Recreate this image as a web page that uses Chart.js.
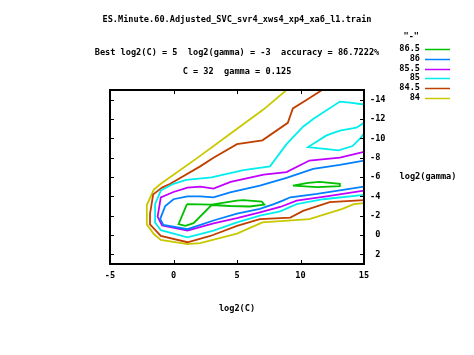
<!DOCTYPE html>
<html>
<head>
<meta charset="utf-8">
<script src="https://cdn.jsdelivr.net/npm/chart.js@4/dist/chart.umd.min.js"></script>
<style>
  html, body { margin: 0; padding: 0; background: #fff; }
  #c { display: block; }
</style>
</head>
<body>
<canvas id="c" width="474" height="355"></canvas>
<script>
// ---- text ----
const chartTitle = "ES.Minute.60.Adjusted_SVC_svr4_xws4_xp4_xa6_l1.train";
const bestLine = "Best log2(C) = 5  log2(gamma) = -3  accuracy = 86.7222%";
const paramLine = "C = 32  gamma = 0.125";
const xTitle = "log2(C)";
const yTitle = "log2(gamma)";
const legendTitle = '"-"';

// ---- ticks ----
const xTicks = [-5, 0, 5, 10, 15];
const yTicks = [-14, -12, -10, -8, -6, -4, -2, 0, 2];

// ---- contour levels ----
const levels = ["86.5", "86", "85.5", "85", "84.5", "84"];
const levelColors = ["#00c000", "#0080ff", "#c000ff", "#00eeee", "#c04000", "#c8c800"];

// ---- contour lines: [log2(C), log2(gamma)] ----
const c865a = [[1.06,-3.2],[3.0,-3.15],[4.98,-3.55],[5.5,-3.6],[6.95,-3.45],[7.15,-3.15],[6.0,-2.95],[4.46,-3.0],[3.0,-3.1],[1.58,-1.23],[0.93,-0.95],[0.4,-1.13],[1.06,-3.2]];
const c865b = [[9.4,-5.1],[10.6,-5.4],[11.5,-5.5],[13.1,-5.3],[13.1,-5.05],[11.3,-4.95],[9.4,-5.1]];
const c86 = [[15,-7.7],[13.1,-7.25],[11.0,-6.85],[8.9,-5.9],[6.8,-5.1],[4.46,-4.4],[3.15,-3.9],[2.1,-4.0],[1.1,-4.0],[0,-3.7],[-0.65,-3.0],[-1.05,-1.65],[-0.8,-1.05],[1.1,-0.6],[3.15,-1.5],[5.0,-2.2],[6.8,-2.7],[7.9,-3.2],[8.6,-3.55],[9.2,-3.9],[11.3,-4.25],[15,-5.0]];
const c855 = [[15,-8.6],[13.1,-8.0],[10.7,-7.7],[8.9,-6.5],[7.1,-6.25],[4.5,-5.5],[3.15,-4.8],[2.1,-5.0],[1.1,-4.9],[0,-4.45],[-1.0,-3.9],[-1.25,-1.9],[-0.9,-1.0],[1.1,-0.45],[3.15,-1.2],[5.0,-1.75],[6.8,-2.35],[8.4,-2.9],[9.7,-3.55],[12.3,-4.05],[15,-4.6]];
const c85a = [[15,-13.5],[13.9,-13.7],[13.1,-13.8],[11.0,-12.0],[10.2,-11.2],[8.9,-9.4],[7.6,-7.1],[5.5,-6.7],[3.0,-5.95],[1.0,-5.7],[0,-5.3],[-1.0,-4.6],[-1.45,-3.2],[-1.45,-1.3],[-1.0,-0.5],[1.1,0.25],[3.15,-0.45],[5.0,-1.3],[6.8,-2.0],[8.4,-2.45],[9.7,-3.2],[11.8,-3.7],[15,-4.15]];
const c85b = [[15,-11.6],[14.4,-11.1],[13.1,-10.8],[12.05,-10.3],[10.6,-9.1],[13.0,-8.75],[14.1,-9.2],[14.7,-10.0],[15,-10.5]];
const c845 = [[11.7,-15],[10.5,-14.0],[9.4,-13.1],[9.0,-11.6],[7.0,-9.8],[5.0,-9.4],[3.15,-8.0],[2.1,-7.1],[-0.25,-5.3],[-0.9,-4.9],[-1.6,-4.2],[-1.85,-2.2],[-1.85,-1.1],[-1.0,0.1],[1.1,0.75],[2.9,0.1],[5.0,-0.95],[6.8,-1.65],[9.2,-1.8],[10.2,-2.5],[12.3,-3.4],[15,-3.6]];
const c84 = [[8.9,-15],[7.1,-13.0],[4.5,-10.5],[1.8,-7.9],[-1.0,-5.3],[-1.55,-4.7],[-2.1,-3.1],[-2.1,-1.1],[-1.55,-0.1],[-1.0,0.5],[1.1,0.95],[2.1,0.85],[5.0,-0.15],[7.0,-1.3],[10.7,-1.65],[13.3,-2.7],[14.2,-3.2],[15,-3.3]];

const contourSets = [
  { level: 0, pts: c865a }, { level: 0, pts: c865b },
  { level: 1, pts: c86 },
  { level: 2, pts: c855 },
  { level: 3, pts: c85a }, { level: 3, pts: c85b },
  { level: 4, pts: c845 },
  { level: 5, pts: c84 }
];

const FONT = "bold 8.6px 'DejaVu Sans Mono', 'Liberation Mono', monospace";

const datasets = contourSets.map(s => ({
  label: levels[s.level],
  data: s.pts.map(p => ({ x: p[0], y: p[1] })),
  showLine: true,
  borderColor: levelColors[s.level],
  backgroundColor: levelColors[s.level],
  borderWidth: 1.8,
  pointRadius: 0,
  pointHoverRadius: 0,
  tension: 0,
  fill: false
}));

const framePlugin = {
  id: 'frame',
  afterDraw(chart) {
    const ctx = chart.ctx;
    const a = chart.chartArea;
    const xs = chart.scales.x, ys = chart.scales.y;
    ctx.save();
    ctx.strokeStyle = '#000';
    ctx.lineWidth = 1;
    const tl = 4;
    ctx.beginPath();
    xTicks.forEach(v => {
      const px = Math.round(xs.getPixelForValue(v)) + 0.5;
      ctx.moveTo(px, a.bottom); ctx.lineTo(px, a.bottom - tl);
      ctx.moveTo(px, a.top); ctx.lineTo(px, a.top + tl);
    });
    yTicks.forEach(v => {
      const py = Math.round(ys.getPixelForValue(v)) + 0.5;
      ctx.moveTo(a.left, py); ctx.lineTo(a.left + tl, py);
      ctx.moveTo(a.right, py); ctx.lineTo(a.right - tl, py);
    });
    ctx.stroke();
    ctx.lineWidth = 2;
    ctx.strokeRect(a.left, a.top, a.right - a.left, a.bottom - a.top);

    // texts
    ctx.fillStyle = '#000';
    ctx.font = FONT;
    ctx.textBaseline = 'middle';
    ctx.textAlign = 'center';
    const cx = (a.left + a.right) / 2;
    ctx.fillText(chartTitle, cx, 20);
    ctx.fillText(bestLine, cx, 53);
    ctx.fillText(paramLine, cx, 72);
    ctx.fillText(xTitle, cx, 309);
    ctx.fillText(yTitle, 428, ys.getPixelForValue(-6));

    // legend
    ctx.textAlign = 'right';
    ctx.fillText(legendTitle, 419, 37);
    levels.forEach((lv, i) => {
      const y = 49 + i * 9.75;
      ctx.fillStyle = '#000';
      ctx.fillText(lv, 420, y);
      ctx.strokeStyle = levelColors[i];
      ctx.lineWidth = 1.5;
      ctx.beginPath();
      ctx.moveTo(425, Math.round(y) + 0.5);
      ctx.lineTo(450, Math.round(y) + 0.5);
      ctx.stroke();
    });
    ctx.restore();
  }
};

new Chart(document.getElementById('c'), {
  type: 'scatter',
  data: { datasets },
  options: {
    responsive: false,
    animation: false,
    events: [],
    layout: { padding: { left: 110, top: 90, right: 0, bottom: 0 } },
    plugins: { legend: { display: false }, tooltip: { enabled: false }, title: { display: false } },
    scales: {
      x: {
        type: 'linear', position: 'bottom', min: -5, max: 15,
        grid: { display: false, drawTicks: false },
        border: { display: false },
        ticks: { color: '#000', font: { family: "'DejaVu Sans Mono'", size: 8.6, weight: 'bold' }, padding: 7, maxRotation: 0 },
        afterBuildTicks: s => { s.ticks = xTicks.map(v => ({ value: v })); },
        afterFit: s => { s.height = 91; }
      },
      y: {
        type: 'linear', position: 'right', min: -15, max: 3, reverse: true,
        grid: { display: false, drawTicks: false },
        border: { display: false },
        ticks: {
          color: '#000', font: { family: "'DejaVu Sans Mono'", size: 8.6, weight: 'bold' }, padding: 6,
          callback: v => (v < 0 ? String(v) : ' ' + v)
        },
        afterBuildTicks: s => { s.ticks = yTicks.map(v => ({ value: v })); },
        afterFit: s => { s.width = 110; }
      }
    }
  },
  plugins: [framePlugin]
});
</script>
</body>
</html>
